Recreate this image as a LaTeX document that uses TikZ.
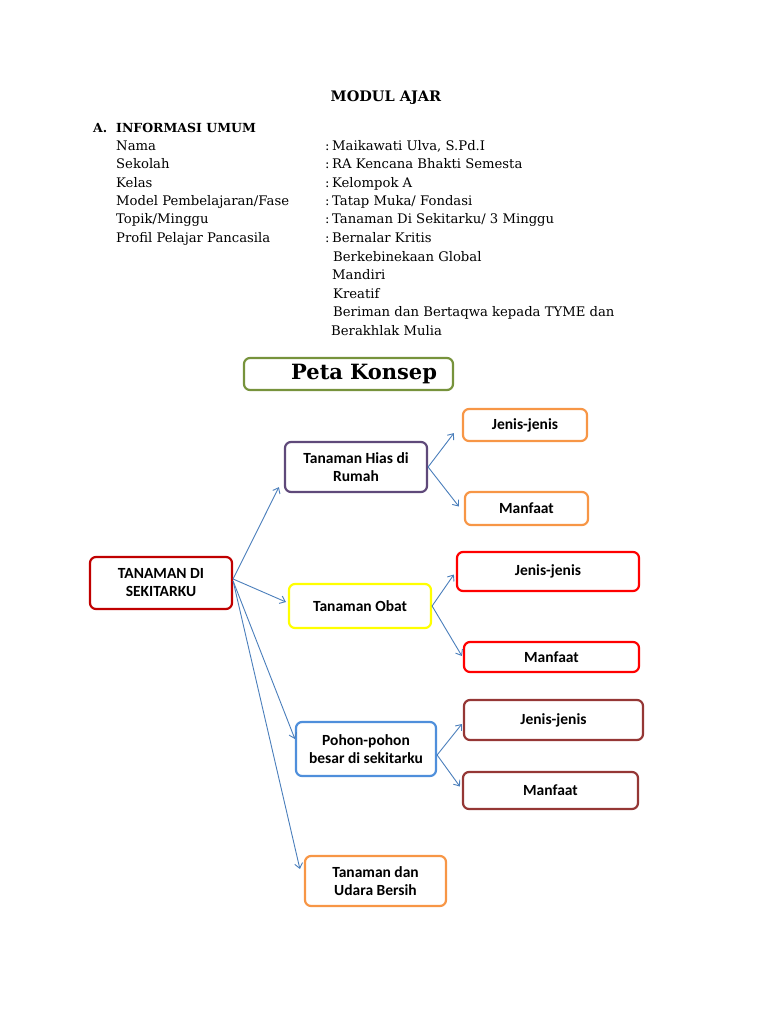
\documentclass[tikz,border=0pt]{standalone}
\usepackage{fontspec}
\setmainfont{DejaVu Serif}
\newfontfamily\boxfont{Carlito}
\usetikzlibrary{arrows.meta,calc}

\definecolor{petagreen}{HTML}{77933C}
\definecolor{hiaspurple}{HTML}{5F497A}
\definecolor{softorange}{HTML}{F79646}
\definecolor{rootred}{HTML}{C00000}
\definecolor{obatyellow}{HTML}{FFFF00}
\definecolor{brightred}{HTML}{FF0000}
\definecolor{brickred}{HTML}{953735}
\definecolor{pohonblue}{HTML}{4F8FDB}
\definecolor{linkblue}{HTML}{4A7EBB}

\tikzset{
  box/.style={draw=#1, line width=2.2pt, rounded corners=6pt, inner sep=0pt,
    align=center, font=\boxfont\bfseries\fontsize{15.5}{18}\selectfont},
  link/.style={draw=linkblue, line width=0.9pt,
    -{Straight Barb[length=5pt,width=8pt]}},
  info/.style={anchor=base west, inner sep=0pt, font=\fontsize{13.2}{15}\selectfont}
}

\begin{document}
\begin{tikzpicture}[x=1pt, y=-1pt]

  % Page frame
  \useasboundingbox (0,0) rectangle (768,1024);

  % Heading
  \node[info, anchor=base, font=\bfseries\fontsize{14.5}{16}\selectfont] (judul) at (386,102) {MODUL AJAR};
  \node[info, font=\bfseries\fontsize{12.5}{15}\selectfont] (seca) at (93,133) {A.};
  \node[info, font=\bfseries\fontsize{12.5}{15}\selectfont] (infoumum) at (116,133) {INFORMASI UMUM};

  % Identity rows
  \foreach \lbl/\val/\yy in {Nama/{Maikawati Ulva, S.Pd.I}/151,
      Sekolah/{RA Kencana Bhakti Semesta}/169,
      Kelas/{Kelompok A}/188,
      {Model Pembelajaran/Fase}/{Tatap Muka/ Fondasi}/206,
      {Topik/Minggu}/{Tanaman Di Sekitarku/ 3 Minggu}/224,
      Profil Pelajar Pancasila/{Bernalar Kritis}/243} {
    \node[info] at (116,\yy) {\lbl};
    \node[info] at (325,\yy) {:\hspace{2.5pt}\val};
  }

  % Profile continuation
  \node[info] (profil2) at (333,261) {Berkebinekaan Global};
  \node[info] (profil3) at (332,279) {Mandiri};
  \node[info] (profil4) at (333,298) {Kreatif};
  \node[info] (profil5) at (333,316) {Beriman dan Bertaqwa kepada TYME dan};
  \node[info] (profil6) at (331,335) {Berakhlak Mulia};

  % Concept map title
  \node[box=petagreen, text width=177pt, inner xsep=16pt, minimum height=32pt, align=right,
    font=\bfseries\fontsize{21}{24}\selectfont] (peta) at (348.5,374) {Peta Konsep};

  % Root and branches
  \node[box=rootred, minimum width=142pt, minimum height=52pt] (root) at (161,583) {TANAMAN DI\\SEKITARKU};
  \node[box=hiaspurple, minimum width=142pt, minimum height=50pt] (hias) at (356,467) {Tanaman Hias di\\Rumah};
  \node[box=obatyellow, minimum width=142pt, minimum height=44pt] (obat) at (360,606) {Tanaman Obat};
  \node[box=pohonblue, minimum width=140pt, minimum height=54pt] (pohon) at (366,749) {Pohon-pohon\\besar di sekitarku};
  \node[box=softorange, minimum width=141pt, minimum height=50pt] (udara) at (375.5,881) {Tanaman dan\\Udara Bersih};

  % Leaves
  \node[box=softorange, minimum width=124pt, minimum height=32pt] (jenishias) at (525,425) {Jenis-jenis};
  \node[box=softorange, minimum width=123pt, minimum height=33pt] (manfaathias) at (526.5,508.5) {Manfaat};
  \node[box=brightred, minimum width=182pt, minimum height=39pt] (jenisobat) at (548,571.5) {Jenis-jenis};
  \node[box=brightred, minimum width=175pt, minimum height=30pt] (manfaatobat) at (551.5,657) {Manfaat};
  \node[box=brickred, minimum width=179pt, minimum height=40pt] (jenispohon) at (553.5,720) {Jenis-jenis};
  \node[box=brickred, minimum width=175pt, minimum height=37pt] (manfaatpohon) at (550.5,790.5) {Manfaat};

  % Connectors from the root
  \draw[link] ($(root.east)+(0,-4)$) -- ($(hias.south west)+(-5,-6)$);
  \draw[link] ($(root.east)+(0,-4)$) -- ($(obat.west)+(-2,-4)$);
  \draw[link] ($(root.east)+(0,-2)$) -- ($(pohon.west)+(0,-10)$);
  \draw[link] ($(root.east)+(0,-2)$) -- ($(udara.west)+(-4,-12)$);

  % Connectors to the leaves
  \draw[link] (hias.east) -- ($(jenishias.south west)+(-8,-9)$);
  \draw[link] (hias.east) -- ($(manfaathias.west)+(-5,-2)$);
  \draw[link] (obat.east) -- ($(jenisobat.west)+(-2,3)$);
  \draw[link] (obat.east) -- ($(manfaatobat.west)+(-1,-1)$);
  \draw[link] ($(pohon.east)+(0,6)$) -- ($(jenispohon.west)+(-1,4)$);
  \draw[link] ($(pohon.east)+(0,6)$) -- ($(manfaatpohon.west)+(-2,-4)$);

\end{tikzpicture}
\end{document}
